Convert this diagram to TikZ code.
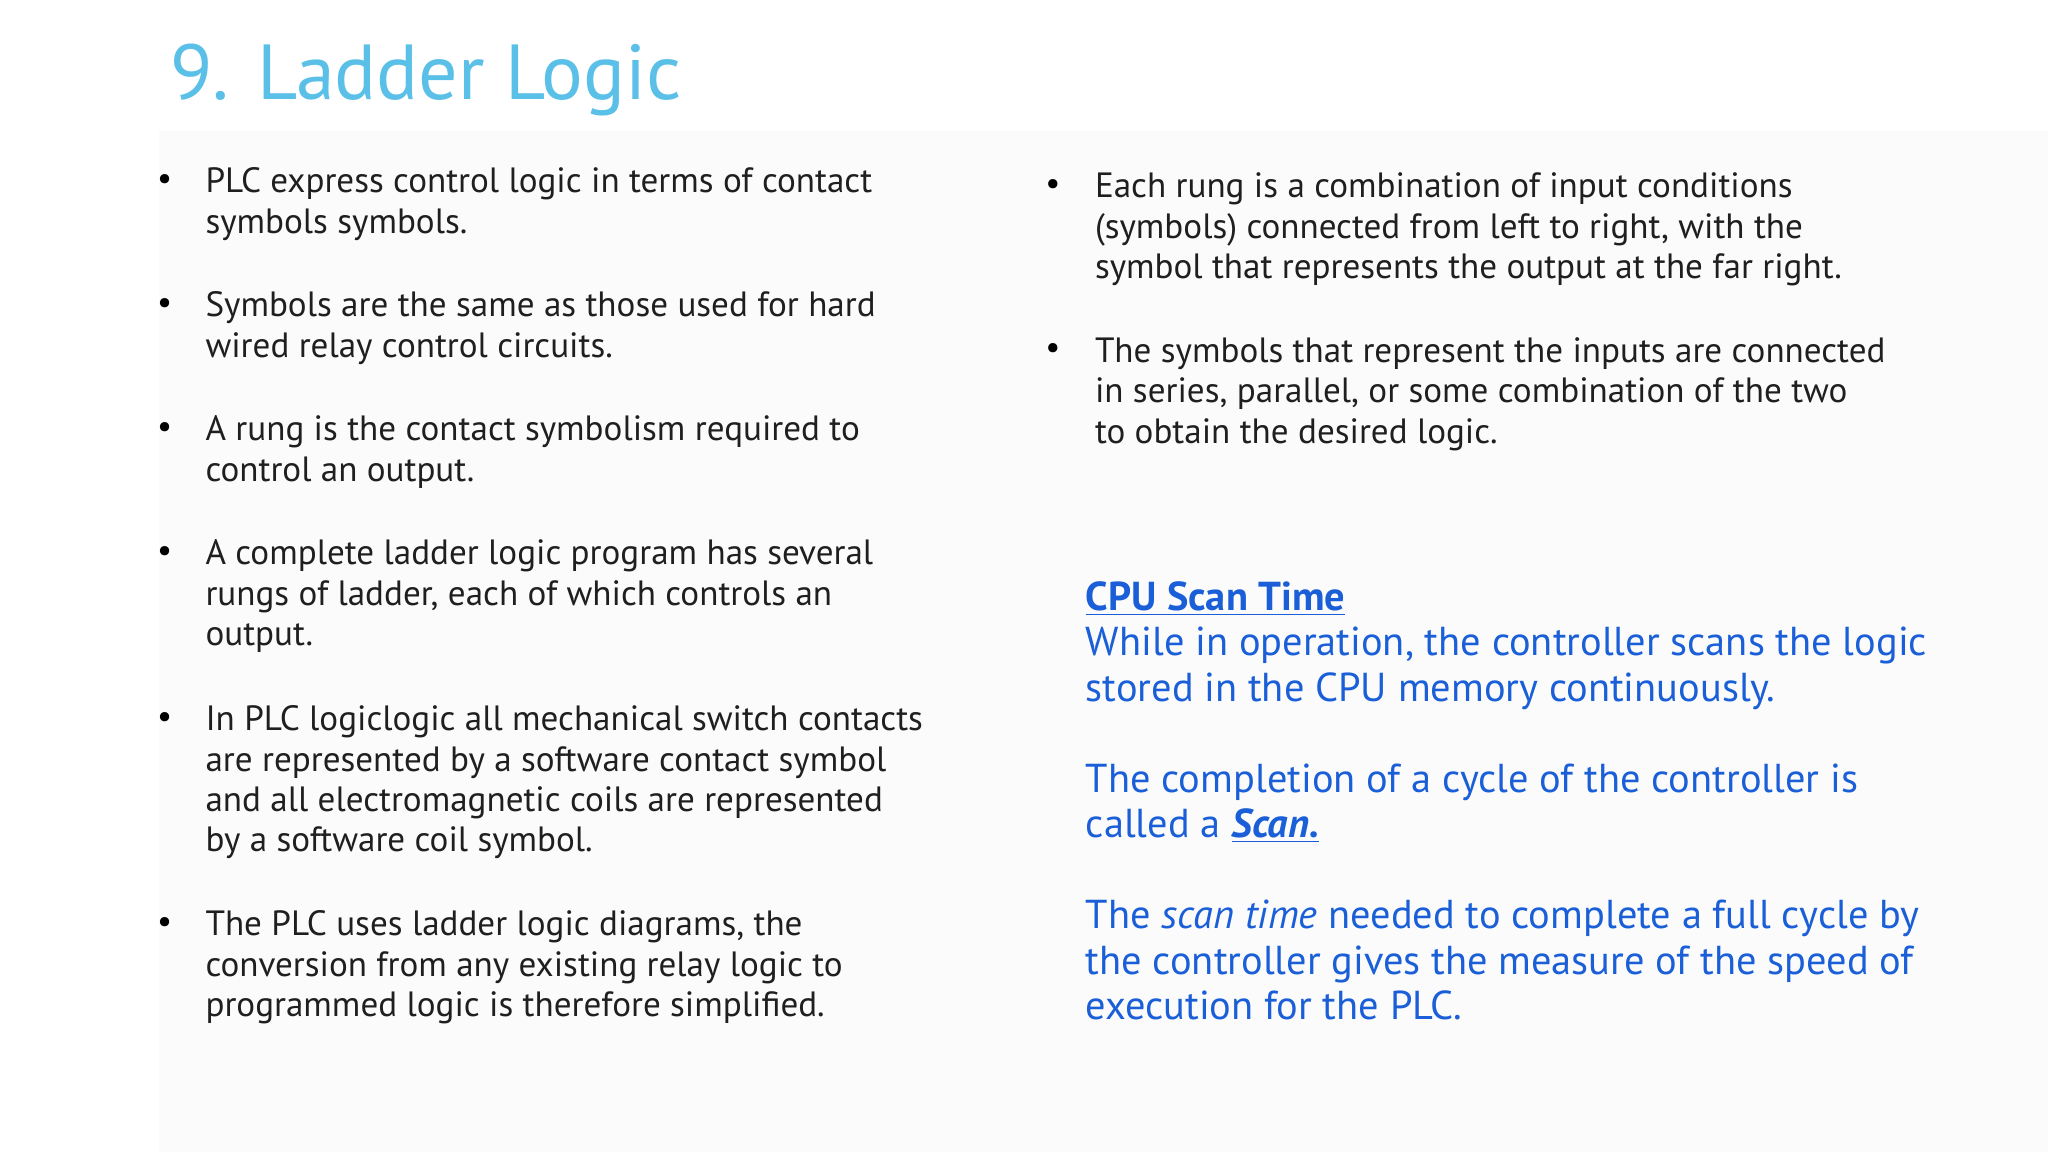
\documentclass[tikz,border=0pt]{standalone}
\usepackage{fontspec}
\setmainfont{PT Sans}
\definecolor{titleblue}{HTML}{5BC0E8}
\definecolor{txtblue}{HTML}{1A5FD8}
\definecolor{panel}{HTML}{FBFBFB}
\begin{document}
\begin{tikzpicture}[x=0.02cm,y=-0.02cm,
  body/.style={anchor=north west,inner sep=0pt,align=left,font=\fontsize{15.3}{17.6}\selectfont,text=black!88},
  bul/.style={anchor=north west,inner sep=0pt,font=\fontsize{14.5}{17.6}\selectfont},
  rbody/.style={anchor=north west,inner sep=0pt,align=left,font=\fontsize{17.6}{19.8}\selectfont,text=txtblue}]
\useasboundingbox (0,0) rectangle (1568,882);
\fill[white] (0,0) rectangle (1568,882);
\fill[panel] (122,100) rectangle (1568,882);
\node[anchor=north west,inner sep=0pt,text=titleblue,font=\fontsize{34}{40}\selectfont] (title) at (130,33) {9. Ladder Logic};
\foreach \y/\n in {133/a,228/b,323/c,418/d,545/e,702/f}{\node[bul] (b\n) at (120,\y) {•};}
\node[body] (ta) at (157,128) {PLC express control logic in terms of contact\\symbols symbols.};
\node[body] (tb) at (157,223) {Symbols are the same as those used for hard\\wired relay control circuits.};
\node[body] (tc) at (157,318) {A rung is the contact symbolism required to\\control an output.};
\node[body] (td) at (157,413) {A complete ladder logic program has several\\rungs of ladder, each of which controls an\\output.};
\node[body] (te) at (157,540) {In PLC logiclogic all mechanical switch contacts\\are represented by a software contact symbol\\and all electromagnetic coils are represented\\by a software coil symbol.};
\node[body] (tf) at (157,697) {The PLC uses ladder logic diagrams, the\\conversion from any existing relay logic to\\programmed logic is therefore simplified.};
\node[bul] (bg) at (800,137) {•};
\node[bul] (bh) at (800,263) {•};
\node[body] (tg) at (838,132) {Each rung is a combination of input conditions\\(symbols) connected from left to right, with the\\symbol that represents the output at the far right.};
\node[body] (th) at (838,258) {The symbols that represent the inputs are connected\\in series, parallel, or some combination of the two\\to obtain the desired logic.};
\node[rbody] (r1) at (831,445) {\underline{\textbf{CPU Scan Time}}\\While in operation, the controller scans the logic\\stored in the CPU memory continuously.\\[19.8pt]The completion of a cycle of the controller is\\called a \underline{\textbf{\textit{Scan.}}}\\[19.8pt]The \textit{scan time} needed to complete a full cycle by\\the controller gives the measure of the speed of\\execution for the PLC.};
\end{tikzpicture}
\end{document}
